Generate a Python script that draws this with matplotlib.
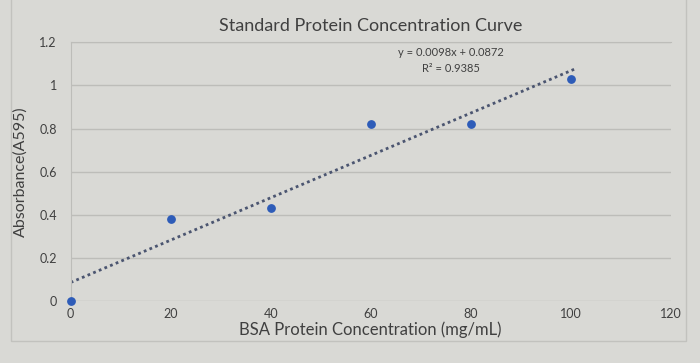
import matplotlib
matplotlib.use("Agg")
import matplotlib.pyplot as plt
import numpy as np
from matplotlib.patches import Rectangle

# Data
concentration = [0, 20, 40, 60, 80, 100]
absorbance = [0.0, 0.38, 0.43, 0.82, 0.82, 1.03]
slope = 0.0098
intercept = 0.0872
r_squared = 0.9385
x_ticks = [0, 20, 40, 60, 80, 100, 120]
y_ticks = [0, 0.2, 0.4, 0.6, 0.8, 1.0, 1.2]
y_tick_labels = ["0", "0.2", "0.4", "0.6", "0.8", "1", "1.2"]

plt.rcParams['font.family'] = ['Lato', 'DejaVu Sans']

bg = '#d9d9d5'
grid_c = '#bdbdb9'
text_c = '#404040'

fig = plt.figure(figsize=(7, 3.63), dpi=100, facecolor=bg)
# chart area border
fig.patches.append(Rectangle((0.015, 0.06), 0.965, 0.95, transform=fig.transFigure,
                             fill=False, edgecolor='#c2c2be', linewidth=1.0))

ax = fig.add_axes([0.101, 0.17, 0.857, 0.714])
ax.set_facecolor(bg)
ax.set_xlim(0, 120)
ax.set_ylim(0, 1.2)
ax.set_xticks(x_ticks)
ax.set_yticks(y_ticks)
ax.set_yticklabels(y_tick_labels)
ax.tick_params(axis='both', length=0, labelsize=9, colors=text_c)
ax.tick_params(axis='x', pad=5)
ax.tick_params(axis='y', pad=10)
ax.grid(axis='y', color=grid_c, linewidth=1.0)
ax.set_axisbelow(True)
for s in ['right', 'bottom']:
    ax.spines[s].set_visible(False)
ax.spines['top'].set_color(grid_c)
ax.spines['left'].set_color(grid_c)

xt = np.array([concentration[0], concentration[-1] + 1])
ax.plot(xt, slope * xt + intercept, linestyle=(0, (1, 1.2)), color='#4b5570', linewidth=2.0, zorder=2)
ax.scatter(concentration, absorbance, s=28, color='#2e5cb8', zorder=3, clip_on=False)

ax.text(76, 1.115, f"y = {slope}x + {intercept}\nR² = {r_squared}", ha='center', va='center',
        fontsize=8, color=text_c, linespacing=1.5)

ax.set_title("Standard Protein Concentration Curve", fontsize=13, color=text_c, pad=8)
ax.set_xlabel("BSA Protein Concentration (mg/mL)", fontsize=12, color=text_c, labelpad=1)
ax.set_ylabel("Absorbance(A595)", fontsize=11.5, color=text_c, labelpad=8)

fig.savefig("out.png", dpi=100, facecolor=bg)
